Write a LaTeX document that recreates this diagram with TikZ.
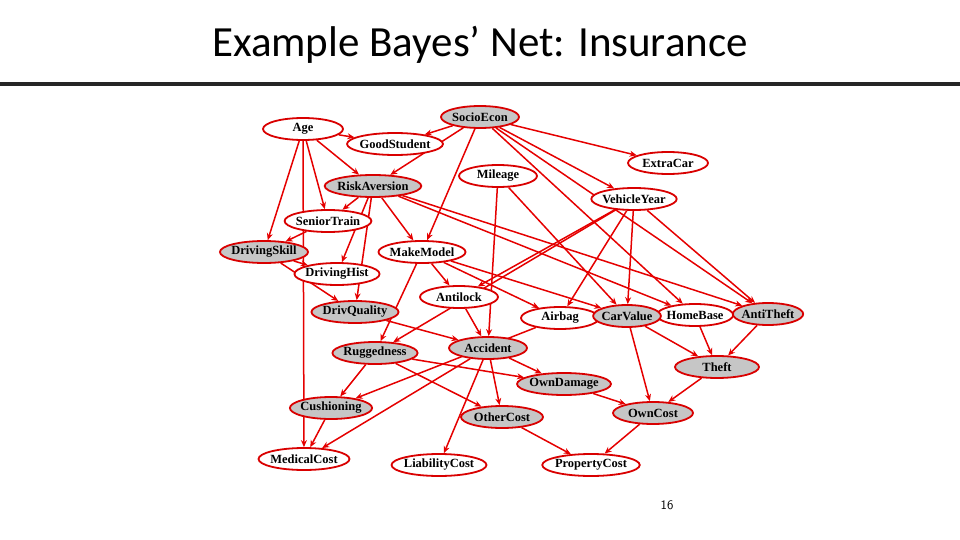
\documentclass[tikz,border=0pt]{standalone}
\usepackage{fontspec}
\setmainfont{Liberation Serif}
\newfontfamily\titlefont{Carlito}
\usetikzlibrary{shapes.geometric,arrows.meta,backgrounds}
\begin{document}
\begin{tikzpicture}[x=1pt,y=-1pt,
  bn/.style={ellipse,draw=red!85!black,line width=1.8pt,fill=white,inner sep=-1.5pt,minimum height=22pt,font=\bfseries\fontsize{12.5}{13}\selectfont},
  obs/.style={bn,fill=gray!45},
  ed/.style={draw=red!90!black,line width=1.5pt,-{Stealth[length=7pt,width=6pt]}}]
\useasboundingbox (0,0) rectangle (960,540);
\node (title) at (480,45) {\titlefont\fontsize{43}{48}\selectfont Example Bayes’ Net: Insurance};
\draw[line width=3.5pt,black!85] (0,84) -- (960,84);
\node (pg) at (667,505) {\sffamily\fontsize{13}{15}\selectfont 16};
% nodes
\node[bn,minimum width=80pt] (Age) at (303,129) {Age};
\node[obs,minimum width=78pt] (SE) at (480,117) {SocioEcon};
\node[bn] (GS) at (395,144) {GoodStudent};
\node[bn,minimum width=80pt] (EC) at (668,163) {ExtraCar};
\node[bn,minimum width=78pt] (Mi) at (498,176) {Mileage};
\node[obs] (RA) at (373,186) {RiskAversion};
\node[bn] (VY) at (634,199) {VehicleYear};
\node[bn] (ST) at (328,221) {SeniorTrain};
\node[obs] (DS) at (264,252) {DrivingSkill};
\node[bn] (MM) at (422,252) {MakeModel};
\node[bn] (DH) at (337,274) {DrivingHist};
\node[bn,minimum width=78pt] (AL) at (459,297) {Antilock};
\node[obs] (DQ) at (355,312) {DrivQuality};
\node[bn,minimum width=78pt] (AB) at (560,318) {Airbag};
\node[bn] (HB) at (695,315) {HomeBase};
\node[obs] (CV) at (627,316) {CarValue};
\node[obs] (AT) at (768,314) {AntiTheft};
\node[obs] (Ru) at (375,353) {Ruggedness};
\node[obs,minimum width=78pt] (Ac) at (488,348) {Accident};
\node[obs,minimum width=84pt] (Th) at (717,367) {Theft};
\node[obs] (OD) at (564,384) {OwnDamage};
\node[obs] (Cu) at (331,408) {Cushioning};
\node[obs,minimum width=82pt] (OC) at (502,417) {OtherCost};
\node[obs,minimum width=80pt] (Ow) at (653,413) {OwnCost};
\node[bn] (MC) at (304,459) {MedicalCost};
\node[bn] (LC) at (439,465) {LiabilityCost};
\node[bn] (PC) at (591,465) {PropertyCost};
% edges
\begin{pgfonlayer}{background}
\foreach \a/\b in {Age/GS,SE/GS,Age/ST,Age/DS,Age/RA,SE/RA,Age/MC,RA/ST,ST/DS,
  DS/DH,RA/DH,DS/DQ,RA/DQ,SE/MM,RA/MM,SE/VY,SE/HB,RA/HB,SE/AT,RA/AT,SE/EC,
  MM/AL,VY/AL,MM/AB,VY/AB,MM/CV,VY/CV,Mi/CV,MM/Ru,VY/Ru,AL/Ac,Mi/Ac,DQ/Ac,
  AT/Th,HB/Th,CV/Th,Ac/OD,Ru/OD,Ru/Cu,AB/Cu,Ac/MC,Cu/MC,Ac/LC,Ac/OC,Ru/OC,
  OD/Ow,CV/Ow,Th/Ow,OC/PC,Ow/PC,VY/AT}
  \draw[ed] (\a) -- (\b);
\end{pgfonlayer}
\end{tikzpicture}
\end{document}
